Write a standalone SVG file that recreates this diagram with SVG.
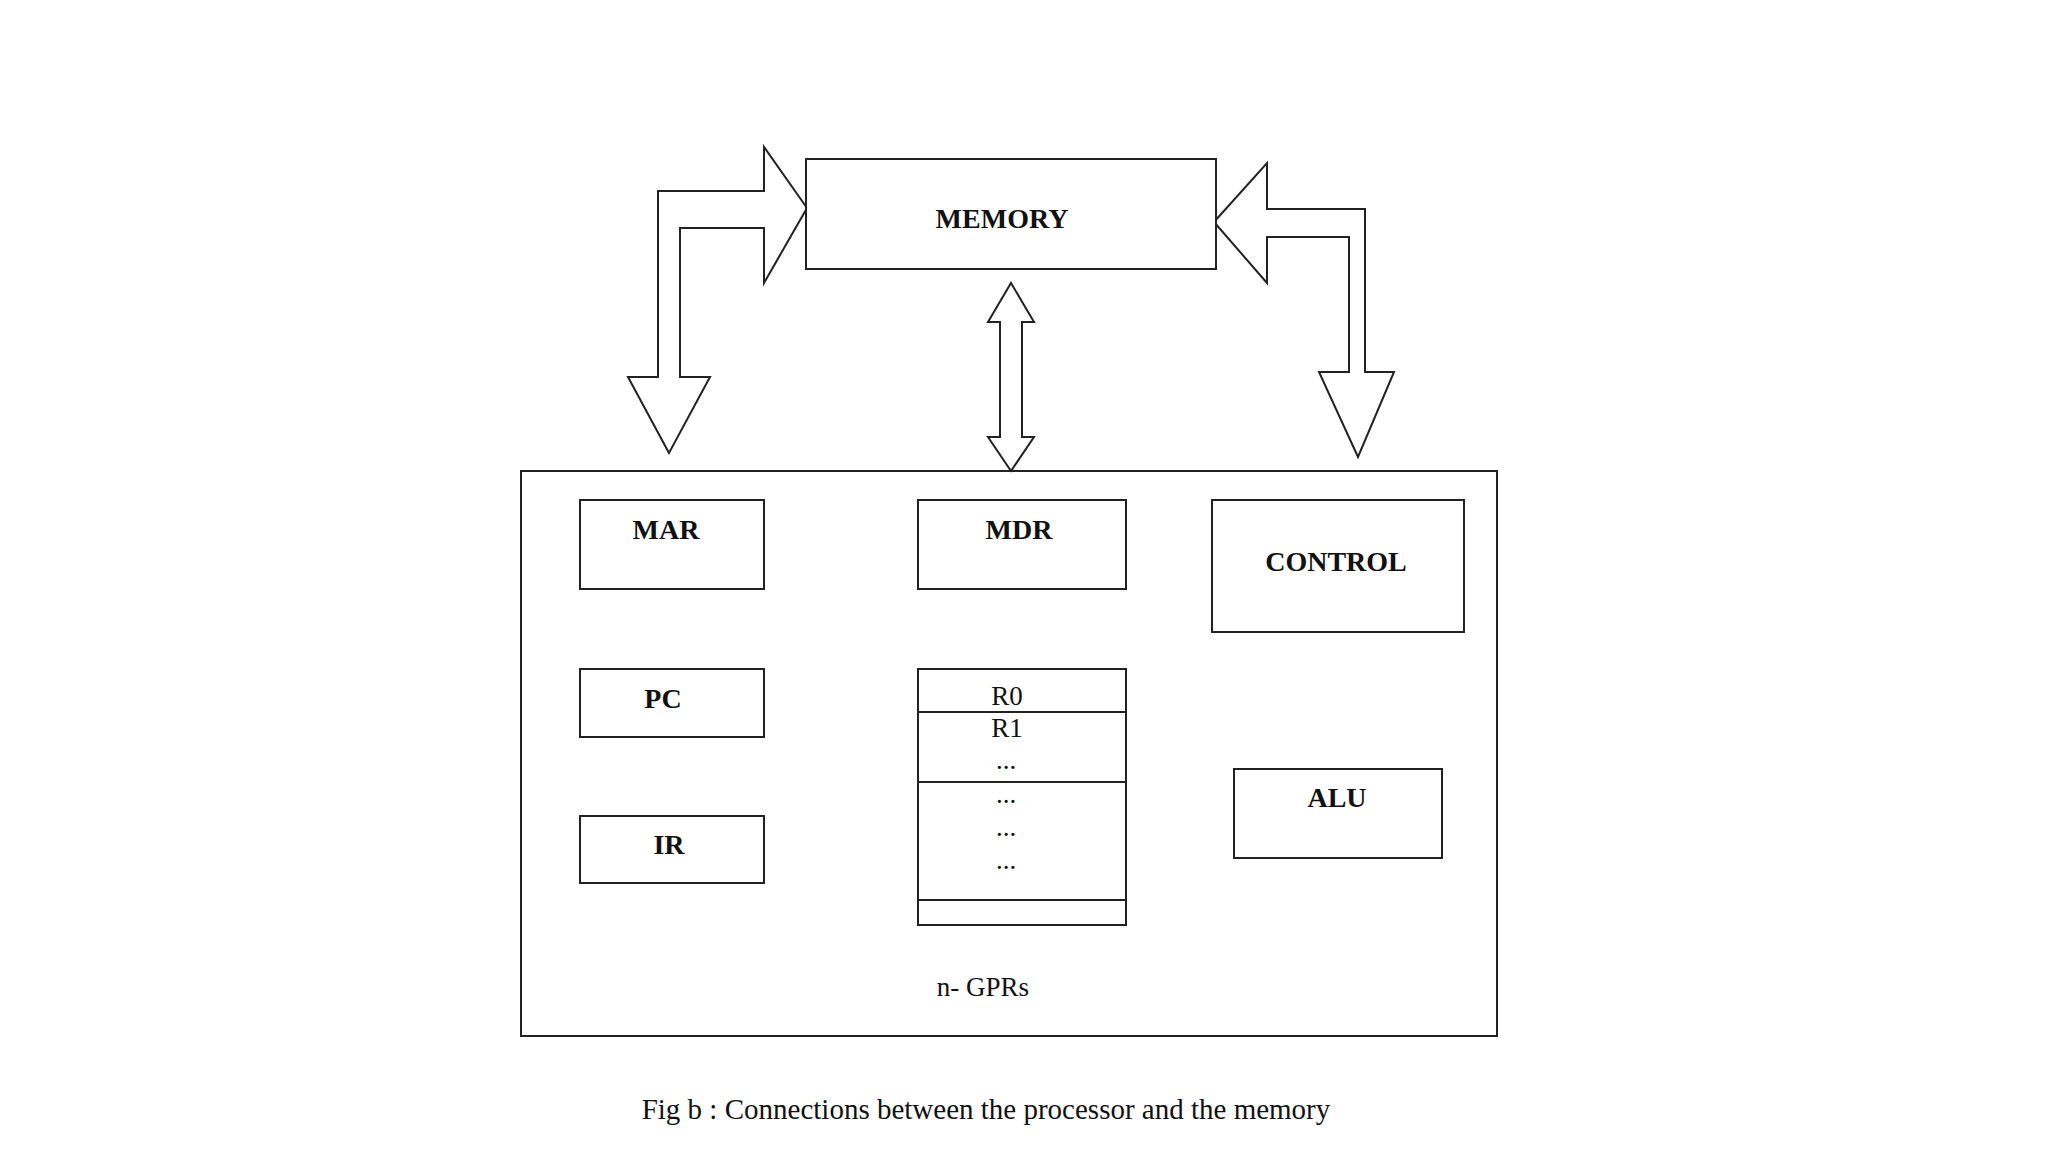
<svg xmlns="http://www.w3.org/2000/svg" width="2048" height="1152" viewBox="0 0 2048 1152">
<style>
.b{fill:#fff;stroke:#222;stroke-width:2}
.a{fill:#fff;stroke:#222;stroke-width:2;stroke-linejoin:miter}
.t{font-family:"Liberation Serif",serif;font-weight:bold;font-size:28px;fill:#111;text-anchor:middle}
.r{font-family:"Liberation Serif",serif;font-size:27px;fill:#111;text-anchor:middle}
.c{font-family:"Liberation Serif",serif;font-size:29px;fill:#111;text-anchor:middle}
</style>
<rect width="2048" height="1152" fill="#fff"/>
<g id="processor"><rect class="b" x="521" y="471" width="976" height="565"/><text class="r" x="983" y="996">n- GPRs</text></g>
<g id="connectors">
<polygon class="a" points="669,453 628,377 658,377 658,191 764,191 764,147 807,208 764,283 764,228 680,228 680,377 710,377"/>
<polygon class="a" points="1214,222 1267,163 1267,209 1365,209 1365,372 1394,372 1358,457 1319,372 1349,372 1349,237 1267,237 1267,283"/>
<polygon class="a" points="1011,283 1034,322 1022,322 1022,437 1034,437 1011,471 988,437 1000,437 1000,322 988,322"/>
</g>
<g id="memory"><rect class="b" x="806" y="159" width="410" height="110"/><text class="t" x="1002" y="228">MEMORY</text></g>
<g id="mar"><rect class="b" x="580" y="500" width="184" height="89"/><text class="t" x="666" y="539">MAR</text></g>
<g id="mdr"><rect class="b" x="918" y="500" width="208" height="89"/><text class="t" x="1019" y="539">MDR</text></g>
<g id="control"><rect class="b" x="1212" y="500" width="252" height="132"/><text class="t" x="1336" y="571">CONTROL</text></g>
<g id="pc"><rect class="b" x="580" y="669" width="184" height="68"/><text class="t" x="663" y="708">PC</text></g>
<g id="ir"><rect class="b" x="580" y="816" width="184" height="67"/><text class="t" x="669" y="854">IR</text></g>
<g id="registers"><rect class="b" x="918" y="669" width="208" height="256"/>
<line class="b" x1="918" y1="712" x2="1126" y2="712"/><line class="b" x1="918" y1="782" x2="1126" y2="782"/><line class="b" x1="918" y1="900" x2="1126" y2="900"/>
<text class="r" x="1007" y="705">R0</text><text class="r" x="1007" y="737">R1</text>
<text class="r" x="1006" y="769">...</text><text class="r" x="1006" y="803">...</text><text class="r" x="1006" y="836">...</text><text class="r" x="1006" y="869">...</text></g>
<g id="alu"><rect class="b" x="1234" y="769" width="208" height="89"/><text class="t" x="1337" y="807">ALU</text></g>
<text class="c" x="986" y="1119">Fig b : Connections between the processor and the memory</text>
</svg>
